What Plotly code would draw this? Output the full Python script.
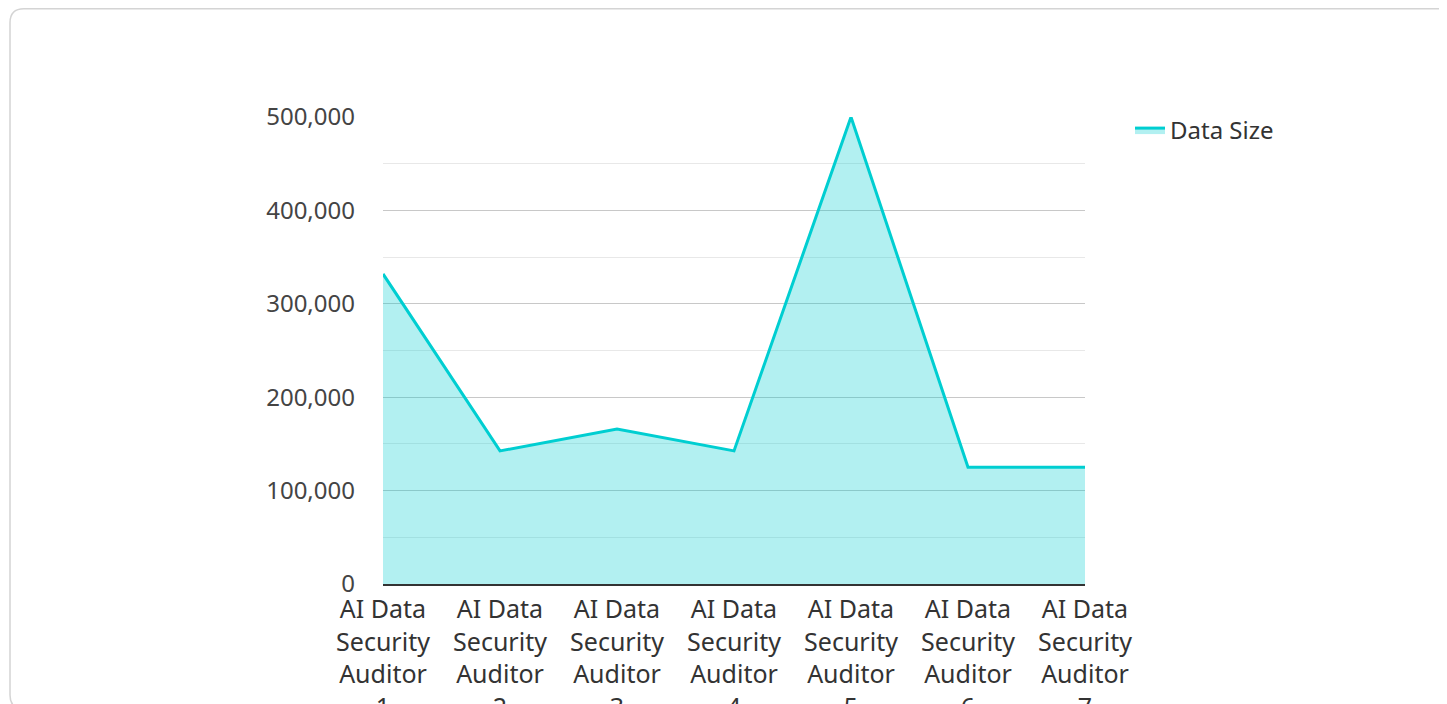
import plotly.graph_objects as go

categories = ["AI Data Security Auditor 1", "AI Data Security Auditor 2", "AI Data Security Auditor 3",
              "AI Data Security Auditor 4", "AI Data Security Auditor 5", "AI Data Security Auditor 6",
              "AI Data Security Auditor 7"]
data_size = [332000, 142500, 166000, 142500, 500000, 125000, 125000]
series_name = "Data Size"
y_tick_values = [0, 100000, 200000, 300000, 400000, 500000]
y_tick_labels = ["0", "100,000", "200,000", "300,000", "400,000", "500,000"]

OFF = 8  # browser body margin
W, H = 1447 - OFF, 704 - OFF
L, R, T, B = 383 - OFF, 1085 - OFF, 117 - OFF, 584 - OFF
pw, ph = R - L, B - T


def px(x):
    return (x - OFF - L) / pw


def py(y):
    return (B - (y - OFF)) / ph


wrapped = [c.replace("AI Data ", "AI Data<br>").replace("Security ", "Security<br>").replace("Auditor ", "Auditor<br>")
           for c in categories]

fig = go.Figure()
fig.add_trace(go.Scatter(
    x=wrapped, y=data_size, name=series_name, mode="lines",
    line=dict(color="#00CED1", width=3),
    fill="tozeroy", fillcolor="rgba(0,206,209,0.3)",
))

# card border (screen coordinates), rounded rectangle
r = 14
x0, x1 = px(10), px(1455)
y_top, y_bot = py(8.75), py(709)
rx, ry = r / pw, r / ph
path = (f"M {x0},{y_bot + ry} L {x0},{y_top - ry} Q {x0},{y_top} {x0 + rx},{y_top} "
        f"L {x1 - rx},{y_top} Q {x1},{y_top} {x1},{y_top - ry} L {x1},{y_bot + ry} "
        f"Q {x1},{y_bot} {x1 - rx},{y_bot} L {x0 + rx},{y_bot} Q {x0},{y_bot} {x0},{y_bot + ry} Z")
fig.add_shape(type="path", path=path, xref="paper", yref="paper",
              line=dict(color="#d4d4d4", width=1.5), layer="below")

fig.update_layout(
    width=W, height=H,
    margin=dict(l=L, r=W - R, t=T, b=H - B, pad=0, autoexpand=False),
    paper_bgcolor="white", plot_bgcolor="white",
    font=dict(family="Noto Sans", size=24, color="#333333"),
    showlegend=True,
    legend=dict(x=px(1130), y=py(108), xanchor="left", yanchor="top",
                font=dict(size=24, color="#333333"), bgcolor="rgba(0,0,0,0)"),
    xaxis=dict(showgrid=False, showline=True, linecolor="#333333", linewidth=2,
               ticks="", range=[0, 6], tickfont=dict(size=25, color="#333333"),
               ticklabelstandoff=2, automargin=False),
    yaxis=dict(range=[0, 500000], tickvals=y_tick_values, ticktext=y_tick_labels,
               showgrid=True, gridcolor="#c8c8c8", gridwidth=1,
               minor=dict(dtick=50000, tick0=0, showgrid=True, gridcolor="#e8e8e8", gridwidth=1),
               zeroline=False, showline=False, ticks="", automargin=False,
               tickfont=dict(size=24, color="#444444"), ticklabelstandoff=27),
)

fig.write_html("out.html")
